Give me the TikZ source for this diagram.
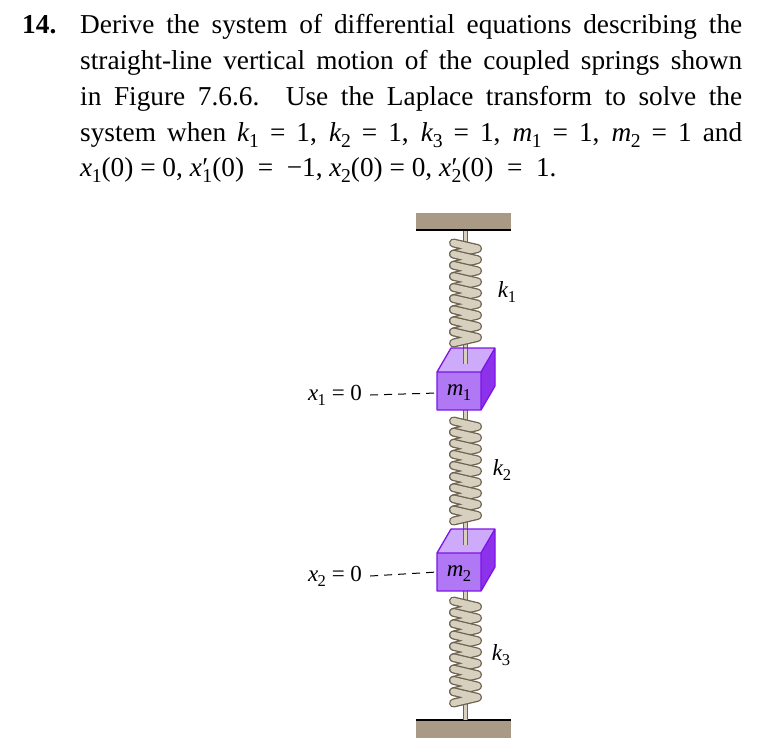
\documentclass[tikz,border=0pt]{standalone}
\usepackage{fontspec}
\setmainfont{Liberation Serif}
\definecolor{wallc}{RGB}{168,154,133}
\definecolor{sprd}{RGB}{110,98,80}
\definecolor{sprl}{RGB}{216,208,190}
\definecolor{boxfront}{RGB}{176,120,245}
\definecolor{boxtop}{RGB}{205,170,250}
\definecolor{boxside}{RGB}{140,50,235}
\definecolor{boxedge}{RGB}{125,20,230}
\newcommand{\vsub}[2]{\textit{#1}\kern-0.5pt\raisebox{-0.22em}{\fontsize{0.72em}{1em}\selectfont #2}}
\newcommand{\vsp}[2]{\textit{#1}\kern0.5pt\makebox[0pt][l]{′}\raisebox{-0.22em}{\fontsize{0.72em}{1em}\selectfont #2}}
\begin{document}
\begin{tikzpicture}[x=1pt,y=-1pt,
  hdr/.style={anchor=base west,inner sep=0pt,font=\fontsize{27.3}{30}\selectfont},
  lab/.style={inner sep=0pt,font=\fontsize{23}{26}\selectfont},
  wall/.style={fill=wallc},
  rod/.style={line width=5pt,draw=sprd},
  rodin/.style={line width=3pt,draw=sprl},
  face/.style={draw=boxedge,line width=1.3pt,line join=round}]
\useasboundingbox (0,0) rectangle (759,753);
\fill[white] (0,0) rectangle (759,753);
% header
\node[hdr] (n14) at (22,33) {\textbf{14.}};
\node[hdr] (l1) at (80,33) {\makebox[662pt][s]{Derive the system of differential equations describing the}};
\node[hdr] (l2) at (80,69) {\makebox[662pt][s]{straight-line vertical motion of the coupled springs shown}};
\node[hdr] (l3) at (80,105) {\makebox[662pt][s]{in Figure 7.6.6. Use the Laplace transform to solve the}};
\node[hdr] (l4) at (80,141) {\makebox[662pt][s]{system when \vsub{k}{1} = 1, \vsub{k}{2} = 1, \vsub{k}{3} = 1, \vsub{m}{1} = 1, \vsub{m}{2} = 1 and}};
\node[hdr] (l5) at (80,176) {\vsub{x}{1}(0) = 0, \vsp{x}{1}(0) \ = \ −1, \vsub{x}{2}(0) = 0, \vsp{x}{2}(0) \ = \ 1.};
% walls
\fill[wall] (416,213) rectangle (511,231);
\draw[line width=1.5pt] (416,230) -- (511,230);
\fill[wall] (416,719) rectangle (511,738);
\draw[line width=1.5pt] (416,720) -- (511,720);
% springs
\foreach \ya/\yb/\yc/\yd in {231/243/343/360, 410/421/521/540, 591/601/703/720}{
  \draw[rod] (465,\ya) -- (465,\yd);
  \draw[rodin] (465,\ya) -- (465,\yd);
  \pgfmathsetmacro{\h}{(\yc-\yb)/9}
  \foreach \i in {0,...,8}{
    \pgfmathsetmacro{\t}{\yb+\i*\h}
    \pgfmathsetmacro{\m}{\t+\h/2}
    \pgfmathsetmacro{\b}{\t+\h}
    \draw[line width=9pt,line cap=round,line join=round,draw=sprd] (453.5,\t) -- (477.5,\m) -- (453.5,\b);
    \draw[line width=6.4pt,line cap=round,line join=round,draw=sprl] (453.5,\t) -- (477.5,\m) -- (453.5,\b);
  }
}
% boxes
\foreach \yt/\nm in {372/1,553/2}{
  \fill[boxtop] (437,\yt) -- (451,\yt-24) -- (495,\yt-24) -- (481,\yt) -- cycle;
  \fill[boxside] (481,\yt) -- (495,\yt-24) -- (495,\yt+14) -- (481,\yt+38) -- cycle;
  \draw[rod] (465,\yt-26) -- (465,\yt-8);
  \draw[rodin] (465,\yt-26) -- (465,\yt-8);
  \fill[boxfront] (437,\yt) rectangle (481,\yt+38);
  \draw[face] (437,\yt) rectangle (481,\yt+38) (437,\yt) -- (451,\yt-24) -- (495,\yt-24) -- (495,\yt+14) -- (481,\yt+38) (481,\yt) -- (495,\yt-24);
}
\node[lab] (m1) at (459,393) {\vsub{m}{1}};
\node[lab] (m2) at (459,574) {\vsub{m}{2}};
\node[lab] (k1) at (507,292) {\vsub{k}{1}};
\node[lab] (k2) at (502,470) {\vsub{k}{2}};
\node[lab] (k3) at (501,655) {\vsub{k}{3}};
\node[lab] (x1) at (335,395) {\vsub{x}{1} = 0};
\node[lab] (x2) at (335,576) {\vsub{x}{2} = 0};
\coordinate (c1) at (437,393);
\coordinate (c2) at (437,572);
\draw[line width=1pt,dash pattern=on 8pt off 6pt] (x1.east) ++(8pt,0) -- (c1);
\draw[line width=1pt,dash pattern=on 8pt off 6pt] (x2.east) ++(8pt,0) -- (c2);
\end{tikzpicture}
\end{document}
